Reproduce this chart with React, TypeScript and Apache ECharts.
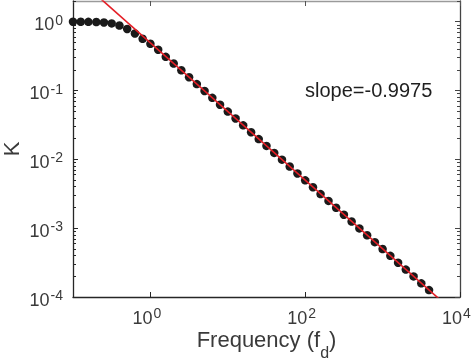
import React, { useEffect, useRef } from 'react';
import * as echarts from 'echarts';

// Frequency (f_d) of each measured point
const frequency = [
  0.1, 0.126, 0.158, 0.2, 0.251, 0.316, 0.398, 0.501, 0.631, 0.794,
  1, 1.26, 1.58, 2, 2.51, 3.16, 3.98, 5.01, 6.31, 7.94,
  10, 12.6, 15.8, 20, 25.1, 31.6, 39.8, 50.1, 63.1, 79.4,
  100, 126, 158, 200, 251, 316, 398, 501, 631, 794,
  1000, 1259, 1585, 1995, 2512, 3162, 3981,
];
// Measured K values
const kValues = [
  1.0, 0.998, 0.995, 0.99, 0.975, 0.945, 0.88, 0.785, 0.675, 0.565,
  0.478, 0.392, 0.309, 0.247, 0.197, 0.156, 0.124, 0.0986, 0.0783, 0.0622,
  0.0494, 0.0393, 0.0312, 0.0248, 0.0197, 0.0157, 0.0124, 0.00989, 0.00786, 0.00624,
  0.00496, 0.00394, 0.00313, 0.00249, 0.00198, 0.00157, 0.00125, 0.000993, 0.000789, 0.000627,
  0.000498, 0.000396, 0.000315, 0.00025, 0.000199, 0.000158, 0.000126,
];
// Fitted power-law line (slope -0.9975) end points
const fitFrequency = [0.1, 10000];
const fitK = [4.9, 5.05e-5];

const slopeText = 'slope=-0.9975';
const xLabel = 'Frequency (f{d|d})';
const yLabel = 'K';

const xTickValues = [1, 100, 10000];
const yTickValues = [0.0001, 0.001, 0.01, 0.1, 1];
const yMinorMultipliers = [2, 3, 4, 5, 6, 7, 8, 9];

const FONT = "'Liberation Sans', Arial, Helvetica, sans-serif";
const TEXT = '#3a3a3a';
const AXIS = '#262626';

export default function App() {
  const ref = useRef<HTMLDivElement>(null);

  useEffect(() => {
    document.body.style.margin = '0';
    if (!ref.current) return;
    const chart = echarts.init(ref.current, undefined, { renderer: 'svg' });

    const yMinor: number[] = [];
    for (let e = -4; e <= 0; e++) {
      for (const m of yMinorMultipliers) {
        const v = m * Math.pow(10, e);
        if (v <= 2) yMinor.push(v);
      }
    }

    const expLabel = (v: number) => {
      const e = Math.round(Math.log10(v));
      return `{b|10}{s|${e}}`;
    };
    const richY = {
      b: { fontSize: 18, lineHeight: 18, padding: [5, 0, 0, 0], fontFamily: FONT, color: TEXT },
      s: { fontSize: 14, lineHeight: 14, verticalAlign: 'top', padding: [0, 0, 0, 1], fontFamily: FONT, color: TEXT },
    };
    const richX = {
      b: { fontSize: 18, lineHeight: 18, padding: [5, 0, 0, 0], fontFamily: FONT, color: TEXT },
      s: { fontSize: 14, lineHeight: 14, verticalAlign: 'top', padding: [0, 7, 0, 1], fontFamily: FONT, color: TEXT },
    };

    const yRange = { type: 'log', min: 0.0001, max: 2, logBase: 10 };
    const xRange = { type: 'log', min: 0.1, max: 10000, logBase: 10 };

    const option: any = {
      animation: false,
      grid: { left: 73, right: 14, top: 1, bottom: 63, containLabel: false, outerBoundsMode: 'none' },
      xAxis: [
        {
          ...xRange,
          position: 'bottom',
          name: xLabel,
          nameLocation: 'middle',
          nameGap: 31,
          nameMoveOverlap: false,
          nameTextStyle: {
            fontSize: 22,
            lineHeight: 22,
            fontFamily: FONT,
            color: TEXT,
            rich: { d: { fontSize: 16, lineHeight: 16, padding: [26, 0, 0, 0], fontFamily: FONT, color: TEXT } },
          },
          axisLine: { show: true, onZero: false, lineStyle: { color: AXIS, width: 1.3 } },
          axisTick: { show: true, inside: true, length: 5, customValues: xTickValues, lineStyle: { color: AXIS, width: 1 } },
          minorTick: { show: false },
          axisLabel: { show: true, customValues: xTickValues, margin: 9, formatter: expLabel, rich: richX, color: TEXT, fontFamily: FONT },
          splitLine: { show: false },
        },
        {
          ...xRange,
          position: 'top',
          axisLine: { show: true, onZero: false, lineStyle: { color: '#9a9a9a', width: 1.3 } },
          axisTick: { show: true, inside: true, length: 5, customValues: xTickValues, lineStyle: { color: '#555', width: 1 } },
          axisLabel: { show: false },
          splitLine: { show: false },
        },
      ],
      yAxis: [
        {
          ...yRange,
          position: 'left',
          name: yLabel,
          nameLocation: 'middle',
          nameRotate: 90,
          nameGap: 51,
          nameMoveOverlap: false,
          nameTextStyle: { fontSize: 22, fontFamily: FONT, color: TEXT },
          axisLine: { show: true, onZero: false, lineStyle: { color: AXIS, width: 1.3 } },
          axisTick: { show: true, inside: true, length: 5, customValues: yTickValues, lineStyle: { color: AXIS, width: 1 } },
          axisLabel: { show: true, customValues: yTickValues, margin: 10, formatter: expLabel, rich: richY, color: TEXT, fontFamily: FONT },
          splitLine: { show: false },
        },
        {
          ...yRange,
          position: 'left',
          axisLine: { show: false },
          axisTick: { show: true, inside: true, length: 3, customValues: yMinor, lineStyle: { color: AXIS, width: 1 } },
          axisLabel: { show: false },
          splitLine: { show: false },
        },
        {
          ...yRange,
          position: 'right',
          axisLine: { show: true, onZero: false, lineStyle: { color: '#444', width: 1.3 } },
          axisTick: { show: true, inside: true, length: 5, customValues: yTickValues, lineStyle: { color: '#444', width: 1 } },
          axisLabel: { show: false },
          splitLine: { show: false },
        },
        {
          ...yRange,
          position: 'right',
          axisLine: { show: false },
          axisTick: { show: true, inside: true, length: 3, customValues: yMinor, lineStyle: { color: '#444', width: 1 } },
          axisLabel: { show: false },
          splitLine: { show: false },
        },
      ],
      series: [
        {
          type: 'scatter',
          xAxisIndex: 0,
          yAxisIndex: 0,
          symbol: 'circle',
          symbolSize: 8.5,
          itemStyle: { color: '#1a1a1a', opacity: 1 },
          data: frequency.map((f, i) => [f, kValues[i]]),
          z: 2,
        },
        {
          type: 'line',
          xAxisIndex: 0,
          yAxisIndex: 0,
          showSymbol: false,
          symbol: 'none',
          clip: true,
          lineStyle: { color: '#e41e26', width: 1.6 },
          data: fitFrequency.map((f, i) => [f, fitK[i]]),
          z: 3,
        },
      ],
      graphic: [
        {
          type: 'text',
          x: 305,
          y: 90,
          style: { text: slopeText, fontSize: 20, fontFamily: FONT, fill: '#1f1f1f', align: 'left', verticalAlign: 'middle' },
        },
      ],
    };

    chart.setOption(option);
    return () => chart.dispose();
  }, []);

  return <div ref={ref} style={{ position: 'fixed', left: 0, top: 0, width: 474, height: 360 }} />;
}
